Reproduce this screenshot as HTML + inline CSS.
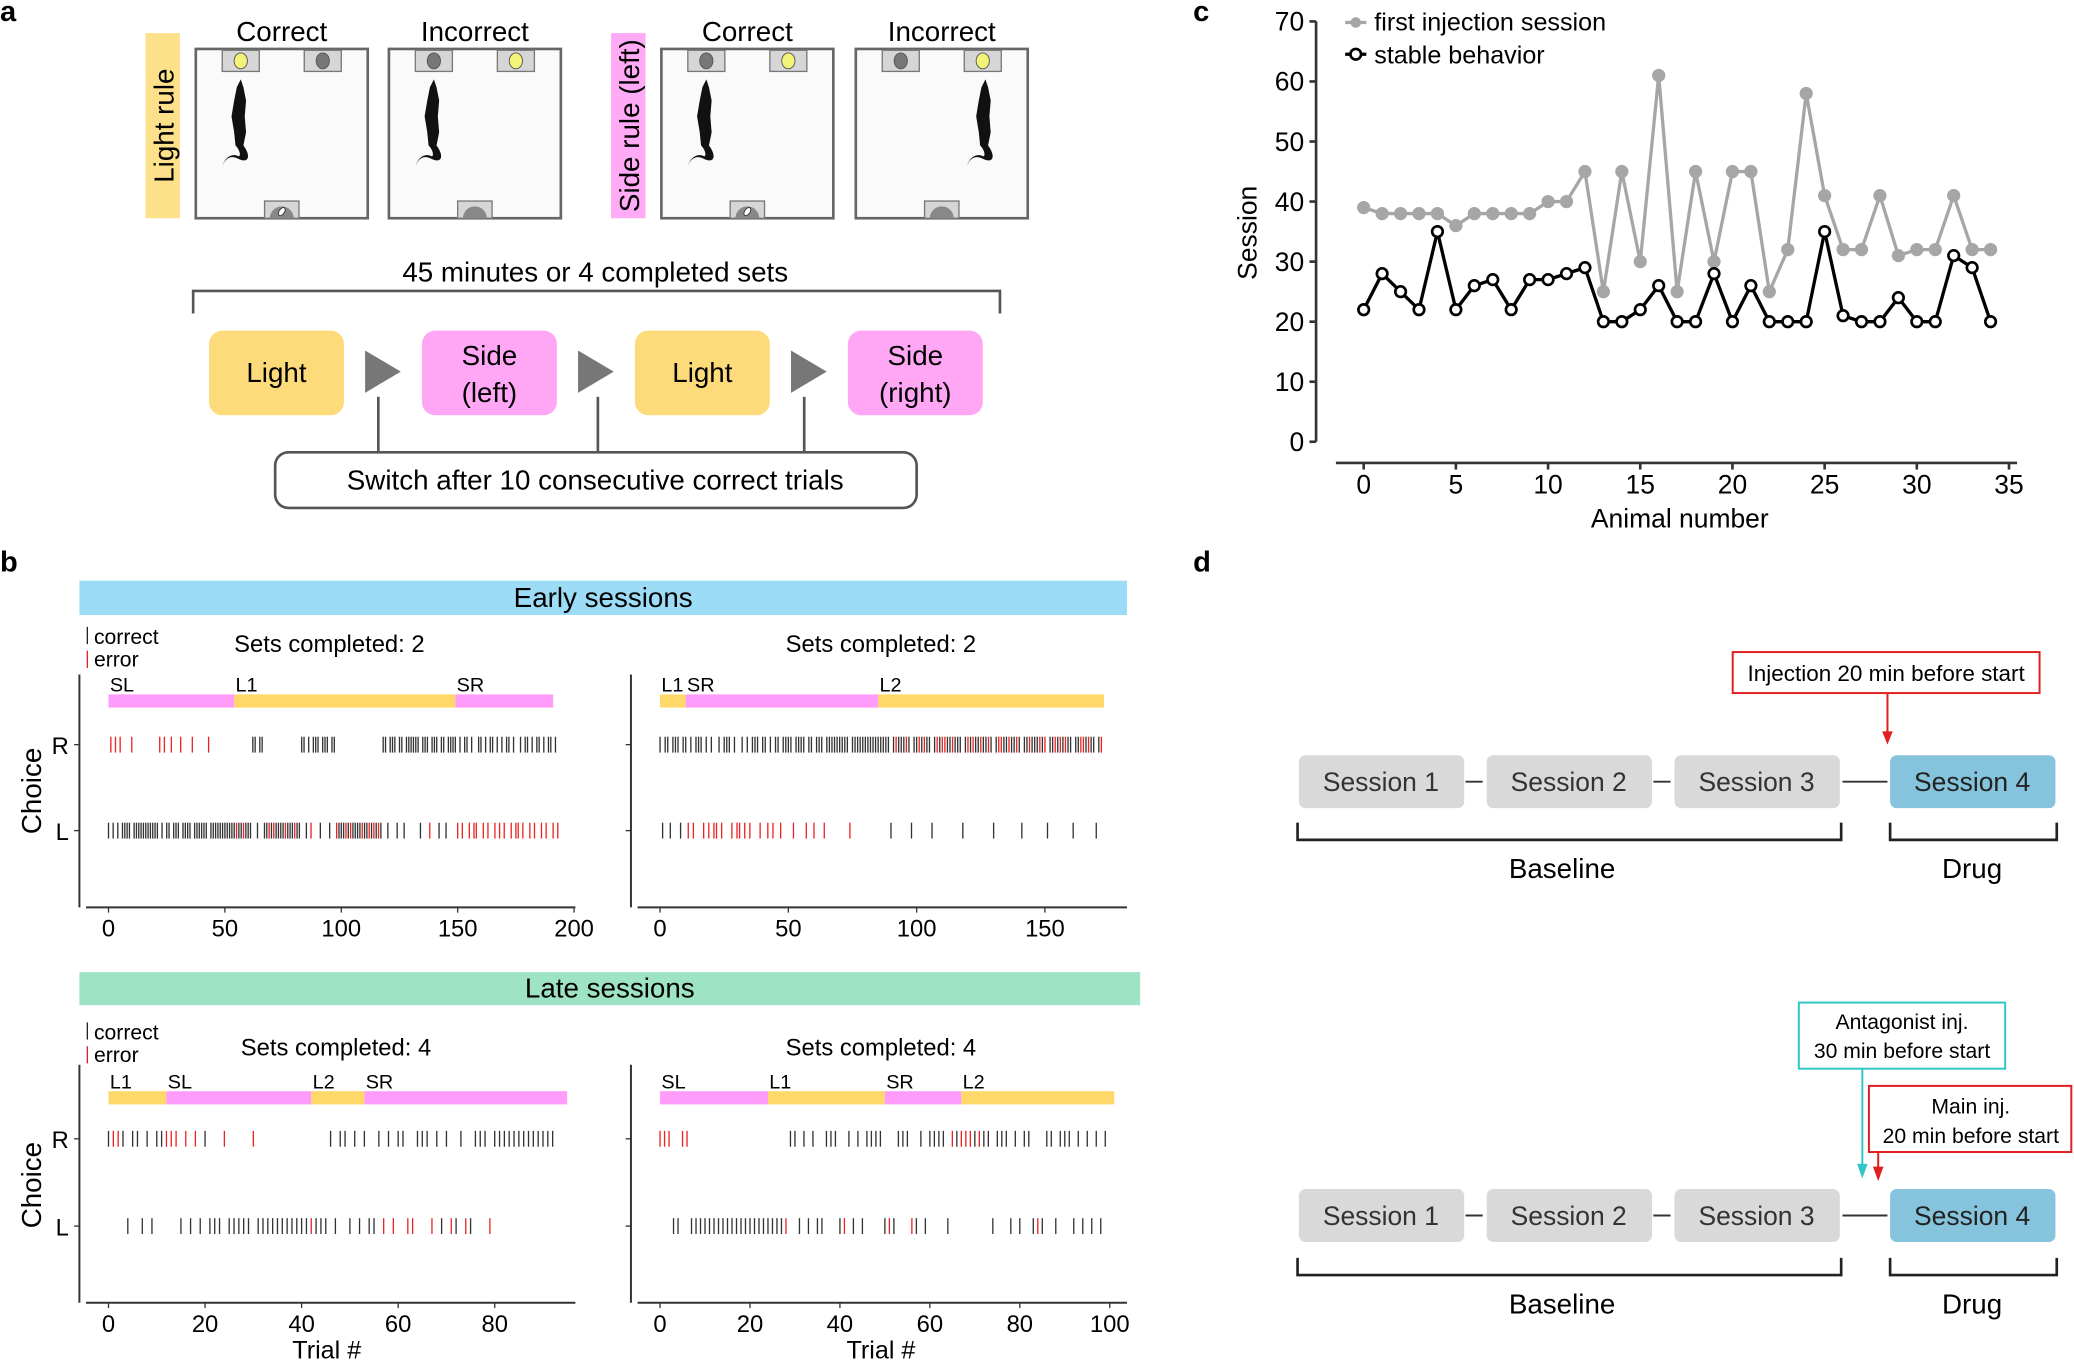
<!DOCTYPE html>
<html><head><meta charset="utf-8"><style>
html,body{margin:0;padding:0;background:#fff;}
svg{display:block;font-family:"Liberation Sans",Arial,sans-serif;}
</style></head><body>
<svg id="fig" width="2074" height="1361" viewBox="0 0 1568 1029" xmlns="http://www.w3.org/2000/svg">
<g font-weight="bold" font-size="22">
<text x="0" y="16">a</text>
<text x="0" y="432">b</text>
<text x="902" y="16">c</text>
<text x="902" y="432">d</text>
</g>

<g id="panelA">
<rect x="110" y="25" width="26" height="140" fill="#fde08a"/>
<text transform="translate(131,95) rotate(-90)" text-anchor="middle" font-size="21">Light rule</text>
<rect x="462" y="25" width="26" height="140" fill="#ffaaf5"/>
<text transform="translate(483,95) rotate(-90)" text-anchor="middle" font-size="21">Side rule (left)</text>
<g font-size="21" text-anchor="middle">
<text x="213" y="31">Correct</text>
<text x="359" y="31">Incorrect</text>
<text x="565" y="31">Correct</text>
<text x="712" y="31">Incorrect</text>
</g>
<g id="boxes"></g>

<text x="450" y="213" text-anchor="middle" font-size="21">45 minutes or 4 completed sets</text>
<path d="M146,237 V220 H756 V237" fill="none" stroke="#555" stroke-width="2"/>
<g font-size="21" text-anchor="middle">
<rect x="158" y="250" width="102" height="64" rx="10" fill="#fedb7a"/>
<text x="209" y="289">Light</text>
<rect x="319" y="250" width="102" height="64" rx="10" fill="#ffa7f5"/>
<text x="370" y="276">Side</text>
<text x="370" y="304">(left)</text>
<rect x="480" y="250" width="102" height="64" rx="10" fill="#fedb7a"/>
<text x="531" y="289">Light</text>
<rect x="641" y="250" width="102" height="64" rx="10" fill="#ffa7f5"/>
<text x="692" y="276">Side</text>
<text x="692" y="304">(right)</text>
</g>
<g fill="#777">
<polygon points="276,265 303,281 276,297"/>
<polygon points="437,265 464,281 437,297"/>
<polygon points="598,265 625,281 598,297"/>
</g>
<g stroke="#555" stroke-width="2">
<line x1="286" y1="300" x2="286" y2="343"/><line x1="452" y1="300" x2="452" y2="343"/><line x1="608" y1="300" x2="608" y2="343"/>
</g>
<rect x="208" y="342" width="485" height="42" rx="10" fill="#fff" stroke="#555" stroke-width="2"/>
<text x="450" y="370" text-anchor="middle" font-size="21">Switch after 10 consecutive correct trials</text>
</g>

<g id="panelB">
<rect x="60" y="439" width="792" height="26" fill="#9ddcf6"/>
<text x="456" y="459" text-anchor="middle" font-size="21">Early sessions</text>
<rect x="60" y="735" width="802" height="25" fill="#9de3c4"/>
<text x="461" y="754" text-anchor="middle" font-size="21">Late sessions</text>
<g font-size="16">
<line x1="66" y1="474" x2="66" y2="487" stroke="#222"/><text x="71" y="487">correct</text>
<line x1="66" y1="492" x2="66" y2="505" stroke="#e82020"/><text x="71" y="504">error</text>
</g>
<g font-size="16">
<line x1="66" y1="773" x2="66" y2="786" stroke="#222"/><text x="71" y="786">correct</text>
<line x1="66" y1="791" x2="66" y2="804" stroke="#e82020"/><text x="71" y="803">error</text>
</g>
<g font-size="18" text-anchor="middle">
<text x="249" y="493">Sets completed: 2</text>
<text x="666" y="493">Sets completed: 2</text>
<text x="254" y="798">Sets completed: 4</text>
<text x="666" y="798">Sets completed: 4</text>
</g>
<text transform="translate(31,598) rotate(-90)" text-anchor="middle" font-size="21">Choice</text>
<text transform="translate(31,896) rotate(-90)" text-anchor="middle" font-size="21">Choice</text>
<text x="247" y="1027" text-anchor="middle" font-size="19">Trial #</text>
<text x="666" y="1027" text-anchor="middle" font-size="19">Trial #</text>
<g id="rasters"></g>
</g>

<g id="panelC"></g>
<g id="panelD"></g>
</svg>

<script>
const NS="http://www.w3.org/2000/svg";
function mk(tag,attrs,parent,text){const e=document.createElementNS(NS,tag);for(const k in attrs)e.setAttribute(k,attrs[k]);if(text!==undefined)e.textContent=text;parent.appendChild(e);return e;}

const animalIds=[0,1,2,3,4,5,6,7,8,9,10,11,12,13,14,15,16,17,18,19,20,21,22,23,24,25,26,27,28,29,30,31,32,33,34];
const firstInjection=[39,38,38,38,38,36,38,38,38,38,40,40,45,25,45,30,61,25,45,30,45,45,25,32,58,41,32,32,41,31,32,32,41,32,32];
const stableBehavior=[22,28,25,22,35,22,26,27,22,27,27,28,29,20,20,22,26,20,20,28,20,26,20,20,20,35,21,20,20,24,20,20,31,29,20];
const yTicks=[0,10,20,30,40,50,60,70];
const xTicks=[0,5,10,15,20,25,30,35];

(function(){
const g=document.getElementById('panelC');
const sx=v=>1031+v*13.94, sy=v=>334-v*4.54;
mk('line',{x1:995,y1:sy(0),x2:995,y2:sy(70),stroke:'#333','stroke-width':2},g);
mk('line',{x1:1010,y1:350,x2:1525,y2:350,stroke:'#333','stroke-width':2},g);
yTicks.forEach(v=>{
  mk('line',{x1:990,x2:995,y1:sy(v),y2:sy(v),stroke:'#333','stroke-width':2},g);
  const t=mk('text',{x:986,y:sy(v)+7,'text-anchor':'end','font-size':20},g,String(v));
  
  
});
xTicks.forEach(v=>{
  mk('line',{x1:sx(v),x2:sx(v),y1:350,y2:355,stroke:'#333','stroke-width':2},g);
  const t=mk('text',{x:sx(v),y:373,'text-anchor':'middle','font-size':20},g,String(v));
  
  
});
const yt=mk('text',{transform:'translate(950,176) rotate(-90)','text-anchor':'middle','font-size':20},g,'Session');


const xt=mk('text',{x:1270,y:399,'text-anchor':'middle','font-size':20},g,'Animal number');


function series(vals,color,fill,name){
  const pts=vals.map((v,i)=>sx(animalIds[i])+','+sy(v)).join(' ');
  const l=mk('polyline',{points:pts,fill:'none',stroke:color,'stroke-width':2.5},g);
  
  
  vals.forEach((v,i)=>{
    const c=mk('circle',{cx:sx(animalIds[i]),cy:sy(v),r:4,fill:fill,stroke:color,'stroke-width':2},g);
    
    
  });
}
series(firstInjection,'#a6a6a6','#a6a6a6','first-injection');
series(stableBehavior,'#000','#fff','stable-behavior');
mk('line',{x1:1017,y1:17,x2:1033,y2:17,stroke:'#a6a6a6','stroke-width':2.5},g);
mk('circle',{cx:1025,cy:17,r:4,fill:'#a6a6a6'},g);
const l1=mk('text',{x:1039,y:23,'font-size':19},g,'first injection session');


mk('line',{x1:1017,y1:41,x2:1033,y2:41,stroke:'#000','stroke-width':2.5},g);
mk('circle',{cx:1025,cy:41,r:4,fill:'#fff',stroke:'#000','stroke-width':2},g);
const l2=mk('text',{x:1039,y:48,'font-size':19},g,'stable behavior');


})();

(function(){
const g=document.getElementById('boxes');
const boxes=[{x:148,lit:0,side:0,rew:1},{x:294,lit:1,side:0,rew:0},{x:500,lit:1,side:0,rew:1},{x:647,lit:1,side:1,rew:0}];
boxes.forEach((b,i)=>{
  const bg=mk('g',{},g);
  
  
  mk('rect',{x:b.x,y:37,width:130,height:128,fill:'#fafafa',stroke:'#666','stroke-width':2},bg);
  [0,1].forEach(p=>{
    const px=b.x+20+p*62;
    mk('rect',{x:px,y:38,width:28,height:16,fill:'#d6d6d6',stroke:'#777','stroke-width':1},bg);
    mk('ellipse',{cx:px+14,cy:46,rx:5,ry:6,fill:p===b.lit?'#f3f37a':'#777',stroke:'#555','stroke-width':0.7},bg);
  });
  mk('rect',{x:b.x+52,y:152,width:26,height:13,fill:'#d6d6d6',stroke:'#777'},bg);
  mk('path',{d:`M${b.x+56},165 A9,9 0 0 1 ${b.x+74},165 Z`,fill:'#888'},bg);
  if(b.rew) mk('ellipse',{cx:b.x+65,cy:160,rx:2,ry:3.5,fill:'#fff',stroke:'#333','stroke-width':0.7,transform:`rotate(35 ${b.x+65} 160)`},bg);
  const rx=b.side?b.x+98:b.x+34;
  mk('path',{d:`M${rx},60 l2,6 l2,10 l-1,12 l1,12 l-2,10 c6,8 4,14 -4,10 c-6,-3 -10,0 -12,6 c2,-8 8,-10 12,-8 c2,1 2,-4 -2,-8 l-1,-10 l-2,-12 l2,-12 l2,-10 z`,fill:'#111'},bg);
});
})();

// trial codes: a = right correct, b = right error, c = left correct, d = left error
const earlyLeftTrials="cbcbcbccccbcccccccccccbcbccbcccbccccbccccccbcccccccccccdccdcccaacaaccdcdccccdcccdccaacadaaacaaacaadcccdcdccccdccdcdcdcaacaaacaacaaaaaacaaadaaacaacaaaadadaadaddaadadaadadadaadaddadaadadaadadaadad";
const earlyRightTrials="acaacaaacaadadaaadadaddadaaadaddadadaaadaadadaadaaaadaaaadaadaaadaaaaaaaaadaaaaaaaaaaaaaaacabaaabacaababaacababbaabaaacababaabaabacabbaabaabacaabaaababcaabababaacaabbabaacab";
const lateLeftTrials="abbacaacacaabbbcbcbcacccbcccccbcccccccccccdcccacaacacaccadadaaddaaadacadcadcaaadaaaaaaaaaaaaa";
const lateRightTrials="bbbccbbcccccccccccccccccccccdaacacaccaaacdacacaaaacdcaaadcacaaaacbabbbabaacaaacacaacdcaacaaacacacaca";
const earlyLeftXTicks=[0,50,100,150,200];
const earlyRightXTicks=[0,50,100,150];
const lateLeftXTicks=[0,20,40,60,80];
const lateRightXTicks=[0,20,40,60,80,100];
const earlyLeftBlocks=[["SL",0,54],["L1",54,149],["SR",149,191]];
const earlyRightBlocks=[["L1",0,10],["SR",10,85],["L2",85,173]];
const lateLeftBlocks=[["L1",0,12],["SL",12,42],["L2",42,53],["SR",53,95]];
const lateRightBlocks=[["SL",0,24],["L1",24,50],["SR",50,67],["L2",67,101]];

(function(){
const root=document.getElementById('rasters');
const panels=[
 {name:'early-left',trials:earlyLeftTrials,ticks:earlyLeftXTicks,blocks:earlyLeftBlocks,x0:82,k:1.76,yax:60,ytop:510,base:686,ax1:65,ax2:435,barY:525,R:563,L:628},
 {name:'early-right',trials:earlyRightTrials,ticks:earlyRightXTicks,blocks:earlyRightBlocks,x0:499,k:1.94,yax:477,ytop:510,base:686,ax1:482,ax2:852,barY:525,R:563,L:628},
 {name:'late-left',trials:lateLeftTrials,ticks:lateLeftXTicks,blocks:lateLeftBlocks,x0:82,k:3.65,yax:60,ytop:805,base:985,ax1:65,ax2:435,barY:825,R:861,L:927},
 {name:'late-right',trials:lateRightTrials,ticks:lateRightXTicks,blocks:lateRightBlocks,x0:499,k:3.4,yax:477,ytop:805,base:985,ax1:482,ax2:852,barY:825,R:861,L:927}
];
panels.forEach(p=>{
  const g=mk('g',{},root);
  
  
  const sx=t=>p.x0+t*p.k;
  mk('line',{x1:p.yax,y1:p.ytop,x2:p.yax,y2:p.base,stroke:'#333','stroke-width':1.5},g);
  mk('line',{x1:p.ax1,y1:p.base,x2:p.ax2,y2:p.base,stroke:'#333','stroke-width':1.5},g);
  p.ticks.forEach(v=>{
    mk('line',{x1:sx(v),x2:sx(v),y1:p.base,y2:p.base+4,stroke:'#333'},g);
    const t=mk('text',{x:sx(v),y:p.base+22,'text-anchor':'middle','font-size':18},g,String(v));
    
    
  });
  mk('line',{x1:p.yax-4,x2:p.yax,y1:p.R,y2:p.R,stroke:'#333'},g);
  mk('line',{x1:p.yax-4,x2:p.yax,y1:p.L,y2:p.L,stroke:'#333'},g);
  if(p.yax===60){
    mk('text',{x:52,y:p.R+7,'text-anchor':'end','font-size':18},g,'R');
    mk('text',{x:52,y:p.L+7,'text-anchor':'end','font-size':18},g,'L');
  }
  p.blocks.forEach(b=>{
    const r=mk('rect',{x:sx(b[1]),y:p.barY,width:(b[2]-b[1])*p.k,height:10,fill:b[0][0]==='L'?'#ffd86a':'#ff9cfb'},g);
    
    
    mk('text',{x:sx(b[1])+1,y:p.barY-2,'font-size':15},g,b[0]);
  });
  [...p.trials].forEach((c,i)=>{
    const y=(c==='a'||c==='b')?p.R:p.L;
    const col=(c==='b'||c==='d')?'#ee2222':'#333';
    const tk=mk('line',{x1:sx(i),x2:sx(i),y1:y-6,y2:y+6,stroke:col,'stroke-width':1},g);
    
    
  });
});
})();

(function(){
const g=document.getElementById('panelD');
function row(y,by,suffix){
  const xs=[982,1124,1266];
  xs.forEach((x,i)=>{
    const r=mk('rect',{x:x,y:y,width:125,height:40,rx:5,fill:'#d9d9d9'},g);
    
    
    mk('text',{x:x+62,y:y+27,'text-anchor':'middle','font-size':20,fill:'#333'},g,'Session '+(i+1));
  });
  mk('line',{x1:1108,x2:1121,y1:y+20,y2:y+20,stroke:'#333','stroke-width':1.5},g);
  mk('line',{x1:1250,x2:1263,y1:y+20,y2:y+20,stroke:'#333','stroke-width':1.5},g);
  mk('line',{x1:1393,x2:1427,y1:y+20,y2:y+20,stroke:'#333','stroke-width':1.5},g);
  const s4=mk('rect',{x:1429,y:y,width:125,height:40,rx:5,fill:'#85c4dc'},g);
  
  
  mk('text',{x:1491,y:y+27,'text-anchor':'middle','font-size':20,fill:'#222'},g,'Session 4');
  mk('path',{d:`M981,${by-13} V${by} H1392 V${by-13}`,fill:'none',stroke:'#222','stroke-width':2},g);
  mk('path',{d:`M1429,${by-13} V${by} H1555 V${by-13}`,fill:'none',stroke:'#222','stroke-width':2},g);
  mk('text',{x:1181,y:by+29,'text-anchor':'middle','font-size':21},g,'Baseline');
  mk('text',{x:1491,y:by+29,'text-anchor':'middle','font-size':21},g,'Drug');
}
row(571,635,'top');
row(899,964,'bottom');
const b1=mk('rect',{x:1310,y:493,width:232,height:31,fill:'#fff',stroke:'#e02020','stroke-width':1.5},g);


mk('text',{x:1426,y:515,'text-anchor':'middle','font-size':17},g,'Injection 20 min before start');
mk('line',{x1:1427,y1:524,x2:1427,y2:555,stroke:'#e02020','stroke-width':1.5},g);
mk('polygon',{points:'1423,553 1431,553 1427,563',fill:'#e02020'},g);
const b2=mk('rect',{x:1360,y:758,width:156,height:50,fill:'#fff',stroke:'#33c6c6','stroke-width':1.5},g);


mk('text',{x:1438,y:778,'text-anchor':'middle','font-size':16},g,'Antagonist inj.');
mk('text',{x:1438,y:800,'text-anchor':'middle','font-size':16},g,'30 min before start');
mk('line',{x1:1408,y1:808,x2:1408,y2:882,stroke:'#33c6c6','stroke-width':1.5},g);
mk('polygon',{points:'1404,880 1412,880 1408,891',fill:'#33c6c6'},g);
const b3=mk('rect',{x:1413,y:821,width:153,height:50,fill:'#fff',stroke:'#e02020','stroke-width':1.5},g);


mk('text',{x:1490,y:842,'text-anchor':'middle','font-size':16},g,'Main inj.');
mk('text',{x:1490,y:864,'text-anchor':'middle','font-size':16},g,'20 min before start');
mk('line',{x1:1420,y1:871,x2:1420,y2:884,stroke:'#e02020','stroke-width':1.5},g);
mk('polygon',{points:'1416,882 1424,882 1420,893',fill:'#e02020'},g);
})();
</script>
</body></html>
